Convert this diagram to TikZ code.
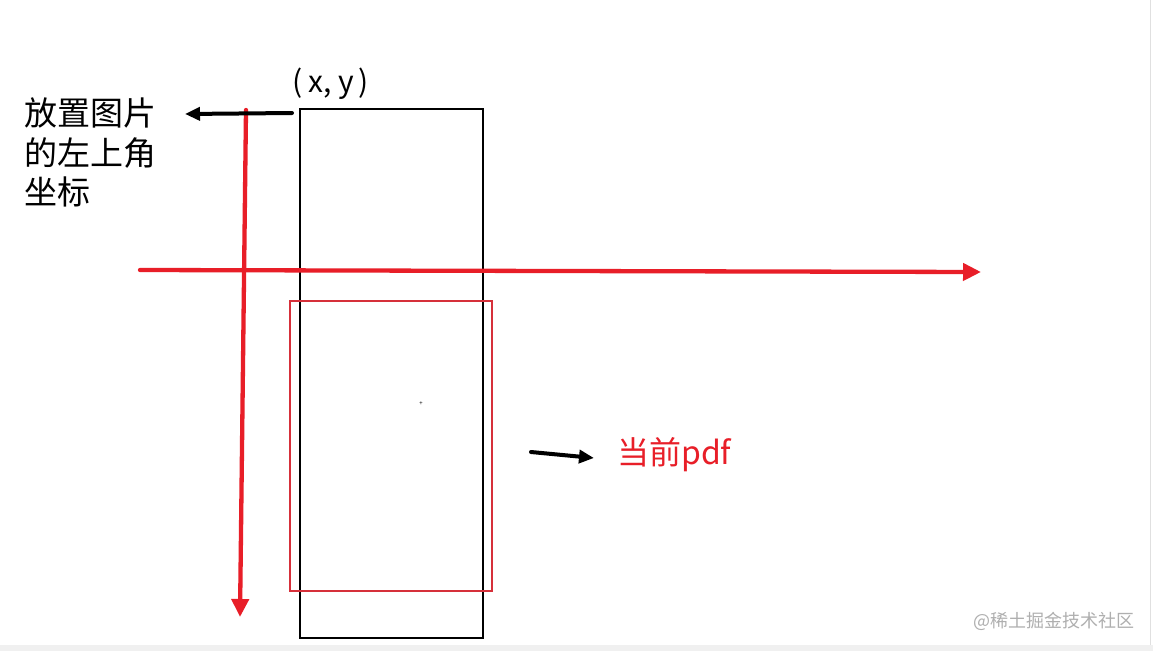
\documentclass[tikz,border=0pt]{standalone}
\usepackage{fontspec}
\setmainfont{Noto Sans CJK SC}
\usetikzlibrary{arrows.meta}
\definecolor{pdfred}{RGB}{232,30,40}
\definecolor{boxred}{RGB}{214,48,58}
\definecolor{wmgray}{RGB}{175,175,175}
\tikzset{
  redarrow/.style={draw=pdfred,line width=4.3pt,line cap=round,-{Triangle[length=18pt,width=17pt]}},
  blackarrow/.style={draw=black,line width=4pt,line cap=round,-{Triangle[length=15pt,width=13pt]}},
  label/.style={inner sep=0pt,font=\fontsize{33}{40}\selectfont}
}
\begin{document}
\begin{tikzpicture}[x=1pt,y=-1pt]
\useasboundingbox[fill=white] (0,0) rectangle (1153,651);
% screenshot edges
\fill[black!6] (0,645) rectangle (1153,651);
\draw[black!12,line width=1pt] (1150,0) -- (1150,645);
% boxes
\node[draw=black,line width=2.2pt,minimum width=183pt,minimum height=529pt,inner sep=0pt,anchor=north west] (img) at (299,108) {};
\node[draw=boxred,line width=1.6pt,minimum width=202pt,minimum height=290pt,inner sep=0pt,anchor=north west] (pdf) at (289,300) {};
% axes
\coordinate (xs) at (140,270);
\coordinate (xe) at (981,272);
\draw[redarrow] (xs) -- (xe);
\coordinate (ys) at (246,110);
\coordinate (ye) at (240,617);
\draw[redarrow] (ys) -- (ye);
% labels
\node[label,font=\fontsize{30}{36}\selectfont,anchor=center] (xy) at (331,84) {(\,x, y\,)};
\node[label,anchor=base west] (desc1) at (24,125) {放置图片};
\node[label,anchor=base west] (desc2) at (24,165) {的左上角};
\node[label,anchor=base west] (desc3) at (24,204) {坐标};
\coordinate (la) at (292,113);
\coordinate (lb) at (185,114);
\draw[blackarrow] (la) -- (lb);
\node[label,font=\fontsize{32}{40}\selectfont,anchor=base west,text=pdfred] (cur) at (617,464) {当前pdf};
\coordinate (ra) at (531,452);
\coordinate (rb) at (594,458);
\draw[blackarrow] (ra) -- (rb);
% tiny mark
\node[inner sep=0pt,font=\fontsize{6}{6}\selectfont] (dot) at (421,404) {+};
% watermark
\node[inner sep=0pt,anchor=east,text=wmgray,font=\fontsize{18}{18}\selectfont] (wm) at (1135,621) {@稀土掘金技术社区};
\end{tikzpicture}
\end{document}
